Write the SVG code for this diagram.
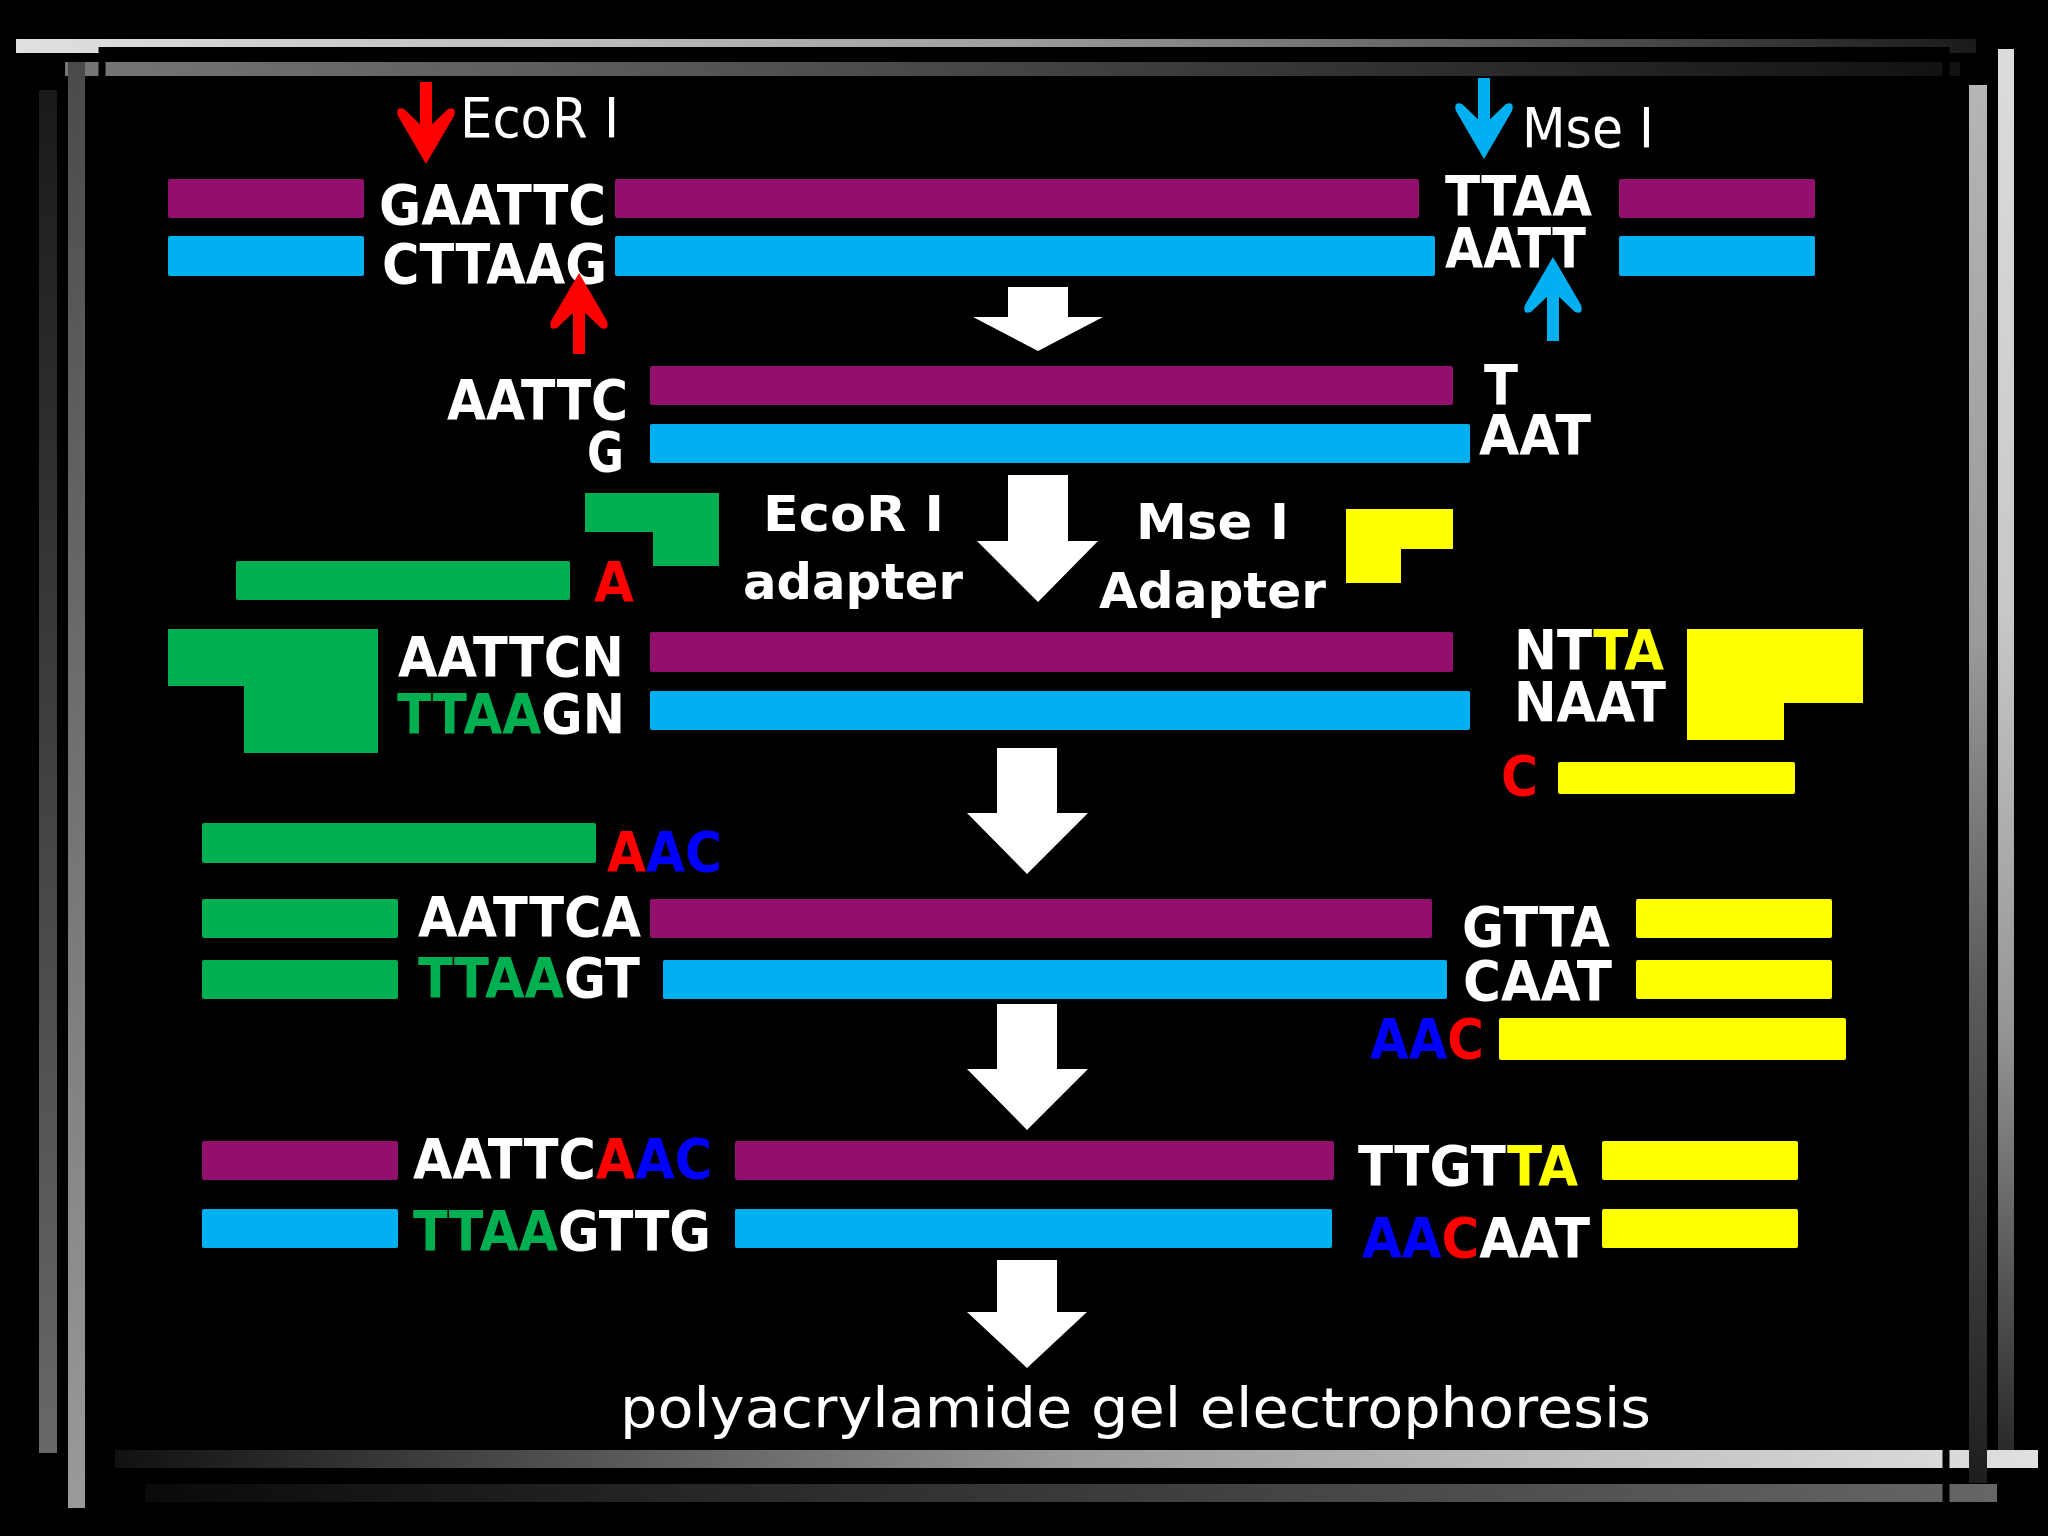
<svg xmlns="http://www.w3.org/2000/svg" width="2048" height="1536" viewBox="0 0 2048 1536">
<defs>
<style>
.seq{font-family:"DejaVu Sans",Verdana,"Liberation Sans",sans-serif;font-weight:bold;font-size:56px;fill:#fff}
.lbl{font-family:"DejaVu Sans",Verdana,"Liberation Sans",sans-serif;font-weight:bold;font-size:50px;fill:#fff}
.reg{font-family:"DejaVu Sans",Verdana,"Liberation Sans",sans-serif;font-size:55px;fill:#fff}
.pu{fill:#920f6e}.bl{fill:#00b0f0}.gr{fill:#00b050}.ye{fill:#ffff00}
.tg{fill:#00b050}.tr{fill:#ff0000}.tb{fill:#0000ff}.ty{fill:#ffff00}
.wa{fill:#fff}
</style>
<linearGradient id="gTop1" x1="0" y1="0" x2="1" y2="0"><stop offset="0" stop-color="#e0e0e0"/><stop offset="0.5" stop-color="#a0a0a0"/><stop offset="1" stop-color="#1a1a1a"/></linearGradient>
<linearGradient id="gTop2" x1="0" y1="0" x2="1" y2="0"><stop offset="0" stop-color="#777"/><stop offset="0.5" stop-color="#444"/><stop offset="1" stop-color="#111"/></linearGradient>
<linearGradient id="gBot1" x1="0" y1="0" x2="1" y2="0"><stop offset="0" stop-color="#111"/><stop offset="0.5" stop-color="#999"/><stop offset="1" stop-color="#e0e0e0"/></linearGradient>
<linearGradient id="gBot2" x1="0" y1="0" x2="1" y2="0"><stop offset="0" stop-color="#0a0a0a"/><stop offset="0.5" stop-color="#3a3a3a"/><stop offset="1" stop-color="#666"/></linearGradient>
<linearGradient id="gL1" gradientUnits="userSpaceOnUse" x1="0" y1="90" x2="0" y2="1453"><stop offset="0" stop-color="#1a1a1a"/><stop offset="1" stop-color="#686868"/></linearGradient>
<linearGradient id="gL2" gradientUnits="userSpaceOnUse" x1="0" y1="62" x2="0" y2="1508"><stop offset="0" stop-color="#4a4a4a"/><stop offset="1" stop-color="#9a9a9a"/></linearGradient>
<linearGradient id="gR1" gradientUnits="userSpaceOnUse" x1="0" y1="85" x2="0" y2="1483"><stop offset="0" stop-color="#b5b5b5"/><stop offset="0.4" stop-color="#999"/><stop offset="0.65" stop-color="#5a5a5a"/><stop offset="1" stop-color="#1e1e1e"/></linearGradient>
<linearGradient id="gR2" gradientUnits="userSpaceOnUse" x1="0" y1="49" x2="0" y2="1450"><stop offset="0" stop-color="#dcdcdc"/><stop offset="0.4" stop-color="#c8c8c8"/><stop offset="0.7" stop-color="#959595"/><stop offset="1" stop-color="#2a2a2a"/></linearGradient>
<path id="head" d="M0,0 L-28,-48 Q-31,-58 -22,-55 L0,-34 L22,-55 Q31,-58 28,-48 Z"/>
</defs>
<rect width="2048" height="1536" fill="#000"/>
<g id="frame">
<rect x="16" y="39" width="1960" height="14" fill="url(#gTop1)"/>
<rect x="65" y="62" width="1895" height="14" fill="url(#gTop2)"/>
<rect x="115" y="1450" width="1923" height="18" fill="url(#gBot1)"/>
<rect x="145" y="1484" width="1852" height="18" fill="url(#gBot2)"/>
<rect x="39" y="90" width="18" height="1363" fill="url(#gL1)"/>
<rect x="68" y="62" width="17" height="1446" fill="url(#gL2)"/>
<rect x="1969" y="85" width="18" height="1398" fill="url(#gR1)"/>
<rect x="1998" y="49" width="16" height="1401" fill="url(#gR2)"/>
<rect x="102" y="50.5" width="1844" height="1470" fill="none" stroke="#000" stroke-width="7"/>
</g>
<g id="dna-original">
<rect class="pu" x="168" y="179" width="196" height="39" rx="2"/>
<rect class="pu" x="615" y="179" width="804" height="39" rx="2"/>
<rect class="pu" x="1619" y="179" width="196" height="39" rx="2"/>
<rect class="bl" x="168" y="236" width="196" height="40" rx="2"/>
<rect class="bl" x="615" y="236" width="820" height="40" rx="2"/>
<rect class="bl" x="1619" y="236" width="196" height="40" rx="2"/>
<text class="seq" x="379" y="224" textLength="227" lengthAdjust="spacingAndGlyphs">GAATTC</text>
<text class="seq" x="382" y="283" textLength="225" lengthAdjust="spacingAndGlyphs">CTTAAG</text>
<text class="seq" x="1445" y="215" textLength="147" lengthAdjust="spacingAndGlyphs">TTAA</text>
<text class="seq" x="1445" y="267" textLength="141" lengthAdjust="spacingAndGlyphs">AATT</text>
<text class="reg" x="460" y="137" textLength="159" lengthAdjust="spacingAndGlyphs">EcoR I</text>
<text class="reg" x="1522" y="147" textLength="132" lengthAdjust="spacingAndGlyphs">Mse I</text>
</g>
<g id="dna-digested">
<rect class="pu" x="650" y="366" width="803" height="39" rx="2"/>
<rect class="bl" x="650" y="424" width="820" height="39" rx="2"/>
<text class="seq" x="447" y="419" textLength="181" lengthAdjust="spacingAndGlyphs">AATTC</text>
<text class="seq" x="587" y="471" textLength="37" lengthAdjust="spacingAndGlyphs">G</text>
<text class="seq" x="1484" y="404" textLength="34" lengthAdjust="spacingAndGlyphs">T</text>
<text class="seq" x="1479" y="454" textLength="112" lengthAdjust="spacingAndGlyphs">AAT</text>
</g>
<g id="ecori-adapter">
<polygon class="gr" points="585,493 719,493 719,566 653,566 653,532 585,532"/>
<rect class="gr" x="236" y="561" width="334" height="39" rx="2"/>
<text class="seq tr" x="594" y="601" textLength="40" lengthAdjust="spacingAndGlyphs">A</text>
<text class="lbl" x="763" y="531" textLength="181" lengthAdjust="spacingAndGlyphs">EcoR I</text>
<text class="lbl" x="743" y="599" textLength="220" lengthAdjust="spacingAndGlyphs">adapter</text>
</g>
<g id="msei-adapter">
<polygon class="ye" points="1346,509 1453,509 1453,549 1401,549 1401,583 1346,583"/>
<text class="lbl" x="1136" y="539" textLength="153" lengthAdjust="spacingAndGlyphs">Mse I</text>
<text class="lbl" x="1099" y="608" textLength="227" lengthAdjust="spacingAndGlyphs">Adapter</text>
</g>
<g id="dna-ligated">
<polygon class="gr" points="168,629 378,629 378,753 244,753 244,686 168,686"/>
<rect class="pu" x="650" y="632" width="803" height="40" rx="2"/>
<rect class="bl" x="650" y="691" width="820" height="39" rx="2"/>
<polygon class="ye" points="1687,629 1863,629 1863,703 1784,703 1784,740 1687,740"/>
<rect class="ye" x="1558" y="762" width="237" height="32" rx="2"/>
<text class="seq" x="398" y="676" textLength="226" lengthAdjust="spacingAndGlyphs">AATTCN</text>
<text class="seq" x="397" y="733" textLength="228" lengthAdjust="spacingAndGlyphs"><tspan class="tg">TTAA</tspan>GN</text>
<text class="seq" x="1514" y="669" textLength="150" lengthAdjust="spacingAndGlyphs">NT<tspan class="ty">TA</tspan></text>
<text class="seq" x="1514" y="721" textLength="152" lengthAdjust="spacingAndGlyphs">NAAT</text>
<text class="seq tr" x="1501" y="795" textLength="37" lengthAdjust="spacingAndGlyphs">C</text>
</g>
<g id="dna-primers">
<rect class="gr" x="202" y="823" width="394" height="40" rx="2"/>
<rect class="gr" x="202" y="899" width="196" height="39" rx="2"/>
<rect class="pu" x="650" y="899" width="782" height="39" rx="2"/>
<rect class="ye" x="1636" y="899" width="196" height="39" rx="2"/>
<rect class="gr" x="202" y="960" width="196" height="39" rx="2"/>
<rect class="bl" x="663" y="960" width="784" height="39" rx="2"/>
<rect class="ye" x="1636" y="960" width="196" height="39" rx="2"/>
<rect class="ye" x="1499" y="1018" width="347" height="42" rx="2"/>
<text class="seq" x="607" y="871" textLength="115" lengthAdjust="spacingAndGlyphs"><tspan class="tr">A</tspan><tspan class="tb">AC</tspan></text>
<text class="seq" x="418" y="936" textLength="223" lengthAdjust="spacingAndGlyphs">AATTCA</text>
<text class="seq" x="1462" y="946" textLength="148" lengthAdjust="spacingAndGlyphs">GTTA</text>
<text class="seq" x="418" y="997" textLength="222" lengthAdjust="spacingAndGlyphs"><tspan class="tg">TTAA</tspan>GT</text>
<text class="seq" x="1463" y="1000" textLength="149" lengthAdjust="spacingAndGlyphs">CAAT</text>
<text class="seq" x="1370" y="1058" textLength="114" lengthAdjust="spacingAndGlyphs"><tspan class="tb">AA</tspan><tspan class="tr">C</tspan></text>
</g>
<g id="dna-amplified">
<rect class="pu" x="202" y="1141" width="196" height="39" rx="2"/>
<rect class="pu" x="735" y="1141" width="599" height="39" rx="2"/>
<rect class="ye" x="1602" y="1141" width="196" height="39" rx="2"/>
<rect class="bl" x="202" y="1209" width="196" height="39" rx="2"/>
<rect class="bl" x="735" y="1209" width="597" height="39" rx="2"/>
<rect class="ye" x="1602" y="1209" width="196" height="39" rx="2"/>
<text class="seq" x="413" y="1178" textLength="299" lengthAdjust="spacingAndGlyphs">AATTC<tspan class="tr">A</tspan><tspan class="tb">AC</tspan></text>
<text class="seq" x="1358" y="1185" textLength="220" lengthAdjust="spacingAndGlyphs">TTGT<tspan class="ty">TA</tspan></text>
<text class="seq" x="413" y="1250" textLength="298" lengthAdjust="spacingAndGlyphs"><tspan class="tg">TTAA</tspan>GTTG</text>
<text class="seq" x="1362" y="1257" textLength="228" lengthAdjust="spacingAndGlyphs"><tspan class="tb">AA</tspan><tspan class="tr">C</tspan>AAT</text>
</g>
<g id="result">
<text class="reg" x="620" y="1427" font-size="54" textLength="1031" lengthAdjust="spacingAndGlyphs">polyacrylamide gel electrophoresis</text>
</g>
<g id="connectors">
<line x1="426" y1="82" x2="426" y2="140" stroke="#ff0000" stroke-width="12"/>
<use href="#head" fill="#ff0000" transform="translate(426,164)"/>
<line x1="579" y1="354" x2="579" y2="300" stroke="#ff0000" stroke-width="12"/>
<use href="#head" fill="#ff0000" transform="translate(579,273) rotate(180)"/>
<line x1="1484" y1="78" x2="1484" y2="135" stroke="#00b0f0" stroke-width="12"/>
<use href="#head" fill="#00b0f0" transform="translate(1484,159)"/>
<line x1="1553" y1="341" x2="1553" y2="283" stroke="#00b0f0" stroke-width="12"/>
<use href="#head" fill="#00b0f0" transform="translate(1553,257) rotate(180)"/>
<polygon class="wa" points="1008,287 1068,287 1068,317 1103,317 1038,351 973,317 1008,317"/>
<polygon class="wa" points="1008,475 1068,475 1068,541 1098,541 1038,602 977,541 1008,541"/>
<polygon class="wa" points="997,748 1057,748 1057,813 1088,813 1027,874 967,813 997,813"/>
<polygon class="wa" points="997,1004 1057,1004 1057,1069 1088,1069 1027,1130 967,1069 997,1069"/>
<polygon class="wa" points="997,1260 1057,1260 1057,1312 1087,1312 1027,1368 967,1312 997,1312"/>
</g>
</svg>
